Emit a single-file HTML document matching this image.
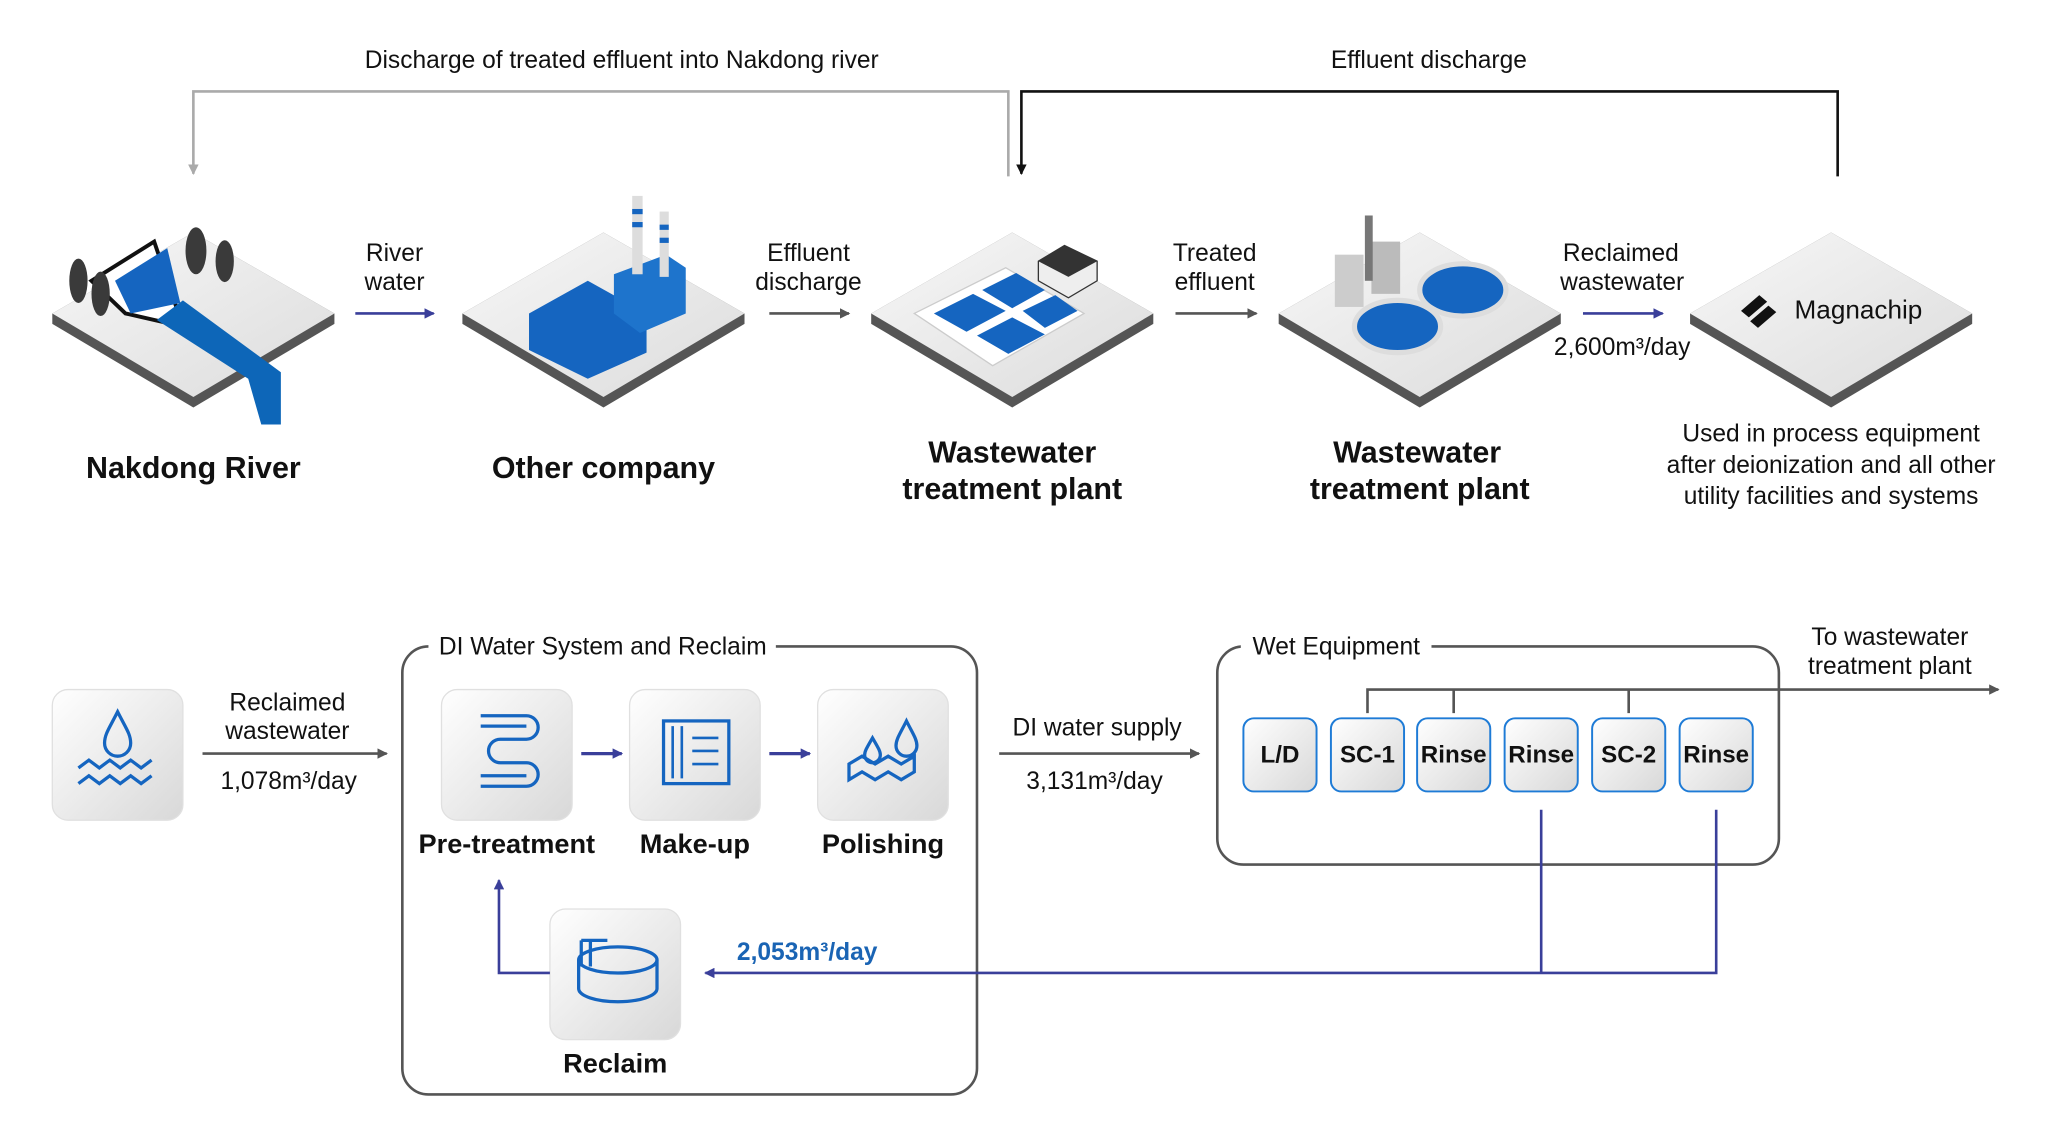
<!DOCTYPE html>
<html><head><meta charset="utf-8"><style>
html,body{margin:0;padding:0;background:#fff}
svg{display:block}
text{font-family:"Liberation Sans",Arial,sans-serif;fill:#111}
</style></head><body>
<svg width="2048" height="1148" viewBox="0 0 1568 879" xmlns="http://www.w3.org/2000/svg">
<defs>
<linearGradient id="tile" x1="0" y1="0" x2="1" y2="1"><stop offset="0" stop-color="#f7f7f7"/><stop offset="1" stop-color="#dcdcdc"/></linearGradient>
<linearGradient id="box" x1="0" y1="0" x2="1" y2="1"><stop offset="0" stop-color="#ffffff"/><stop offset="1" stop-color="#d8d8d8"/></linearGradient>
<marker id="ab" markerWidth="8" markerHeight="8" refX="7" refY="4" orient="auto" markerUnits="userSpaceOnUse"><path d="M0,0 L8,4 L0,8 z" fill="#3a3f9a"/></marker>
<marker id="ag" markerWidth="8" markerHeight="8" refX="7" refY="4" orient="auto" markerUnits="userSpaceOnUse"><path d="M0,0 L8,4 L0,8 z" fill="#555"/></marker>
<marker id="al" markerWidth="8" markerHeight="8" refX="7" refY="4" orient="auto" markerUnits="userSpaceOnUse"><path d="M0,0 L8,4 L0,8 z" fill="#aaa"/></marker>
<marker id="ak" markerWidth="8" markerHeight="8" refX="7" refY="4" orient="auto" markerUnits="userSpaceOnUse"><path d="M0,0 L8,4 L0,8 z" fill="#111"/></marker>
<g id="plat">
<path d="M0,-62 L108,0 L108,8 L0,72 L-108,8 L-108,0 Z" fill="#555"/>
<path d="M0,-62 L108,0 L0,64 L-108,0 Z" fill="url(#tile)"/>
</g>
</defs>

<text x="476" y="52" font-size="18.8" text-anchor="middle">Discharge of treated effluent into Nakdong river</text>
<text x="1094" y="52" font-size="18.8" text-anchor="middle">Effluent discharge</text>
<path d="M772,135 V70 H148 V133" fill="none" stroke="#aaa" stroke-width="2" marker-end="url(#al)"/>
<path d="M1407,135 V70 H782 V133" fill="none" stroke="#111" stroke-width="2" marker-end="url(#ak)"/>

<use href="#plat" x="148" y="240"/>
<use href="#plat" x="462" y="240"/>
<use href="#plat" x="775" y="240"/>
<use href="#plat" x="1087" y="240"/>
<use href="#plat" x="1402" y="240"/>

<path d="M70,215 L118,185 L140,250 L96,240 Z" fill="#fff" stroke="#111" stroke-width="3"/>
<path d="M88,215 L128,190 L138,232 L100,240Z" fill="#1565c0"/>
<path d="M120,245 L140,230 L215,285 L215,325 L200,325 L190,290 Z" fill="#0d66b8"/>
<ellipse cx="150" cy="192" rx="8" ry="18" fill="#3a3a3a"/><ellipse cx="172" cy="200" rx="7" ry="16" fill="#3a3a3a"/>
<ellipse cx="60" cy="215" rx="7" ry="17" fill="#3a3a3a"/><ellipse cx="77" cy="225" rx="7" ry="17" fill="#3a3a3a"/>
<path d="M405,240 L450,215 L495,240 L495,270 L450,290 L405,268Z" fill="#1565c0"/>
<path d="M470,210 L510,195 L525,205 L525,240 L490,255 L470,240Z" fill="#1e74cc"/>
<rect x="484" y="150" width="8" height="60" fill="#ddd"/><rect x="505" y="162" width="7" height="50" fill="#ddd"/>
<rect x="484" y="160" width="8" height="4" fill="#1565c0"/><rect x="484" y="170" width="8" height="4" fill="#1565c0"/><rect x="505" y="172" width="7" height="4" fill="#1565c0"/><rect x="505" y="182" width="7" height="4" fill="#1565c0"/>
<path d="M700,240 L770,205 L830,240 L760,280Z" fill="#fff" stroke="#ccc"/>
<path d="M715,240 L745,225 L770,238 L740,254Z M752,222 L778,209 L800,222 L775,236Z M748,257 L775,243 L800,256 L772,271Z M783,238 L808,226 L825,238 L800,251Z" fill="#1565c0"/>
<path d="M795,200 L815,188 L840,200 L840,215 L818,228 L795,215Z" fill="#eee" stroke="#333"/>
<path d="M795,200 L815,188 L840,200 L818,212Z" fill="#333"/>
<ellipse cx="1070" cy="250" rx="33" ry="20" fill="#1565c0" stroke="#ddd" stroke-width="4"/>
<ellipse cx="1120" cy="222" rx="33" ry="20" fill="#1565c0" stroke="#ddd" stroke-width="4"/>
<rect x="1022" y="195" width="22" height="40" fill="#ccc"/><rect x="1050" y="185" width="22" height="40" fill="#bbb"/><rect x="1045" y="165" width="6" height="50" fill="#777"/>
<path d="M1333,238 l14,-12 l6,5 l-14,12z M1340,246 l14,-12 l6,5 l-14,12z" fill="#111"/>
<text x="1374" y="244" font-size="20">Magnachip</text>

<text x="302" y="200" font-size="18.8" text-anchor="middle">River</text><text x="302" y="222" font-size="18.8" text-anchor="middle">water</text>
<line x1="272" y1="240" x2="332" y2="240" stroke="#3a3f9a" stroke-width="2" marker-end="url(#ab)"/>
<text x="619" y="200" font-size="18.8" text-anchor="middle">Effluent</text><text x="619" y="222" font-size="18.8" text-anchor="middle">discharge</text>
<line x1="589" y1="240" x2="650" y2="240" stroke="#555" stroke-width="2" marker-end="url(#ag)"/>
<text x="930" y="200" font-size="18.8" text-anchor="middle">Treated</text><text x="930" y="222" font-size="18.8" text-anchor="middle">effluent</text>
<line x1="900" y1="240" x2="962" y2="240" stroke="#555" stroke-width="2" marker-end="url(#ag)"/>
<text x="1241" y="200" font-size="18.8" text-anchor="middle">Reclaimed</text><text x="1242" y="222" font-size="18.8" text-anchor="middle">wastewater</text>
<line x1="1212" y1="240" x2="1273" y2="240" stroke="#3a3f9a" stroke-width="2" marker-end="url(#ab)"/>
<text x="1242" y="272" font-size="18.8" text-anchor="middle">2,600m³/day</text>

<text x="148" y="366" font-size="23.3" font-weight="bold" text-anchor="middle">Nakdong River</text>
<text x="462" y="366" font-size="23.3" font-weight="bold" text-anchor="middle">Other company</text>
<text x="775" y="354" font-size="23.3" font-weight="bold" text-anchor="middle">Wastewater</text><text x="775" y="382" font-size="23.3" font-weight="bold" text-anchor="middle">treatment plant</text>
<text x="1085" y="354" font-size="23.3" font-weight="bold" text-anchor="middle">Wastewater</text><text x="1087" y="382" font-size="23.3" font-weight="bold" text-anchor="middle">treatment plant</text>
<text x="1402" y="338" font-size="18.8" text-anchor="middle">Used in process equipment</text>
<text x="1402" y="362" font-size="18.8" text-anchor="middle">after deionization and all other</text>
<text x="1402" y="386" font-size="18.8" text-anchor="middle">utility facilities and systems</text>

<rect x="40" y="528" width="100" height="100" rx="12" fill="url(#box)" stroke="#e0e0e0"/>
<path d="M90,545 C84,557 80,562 80,569 a10,10 0 0 0 20,0 c0,-7 -4,-12 -10,-24z" fill="none" stroke="#1565c0" stroke-width="2.5"/>
<path d="M60,588 l8,-6 8,6 8,-6 8,6 8,-6 8,6 8,-6 M60,600 l8,-6 8,6 8,-6 8,6 8,-6 8,6 8,-6" fill="none" stroke="#1565c0" stroke-width="2.5"/>
<text x="220" y="544" font-size="18.8" text-anchor="middle">Reclaimed</text><text x="220" y="566" font-size="18.8" text-anchor="middle">wastewater</text>
<line x1="155" y1="577" x2="296" y2="577" stroke="#555" stroke-width="2" marker-end="url(#ag)"/>
<text x="221" y="604" font-size="18.8" text-anchor="middle">1,078m³/day</text>

<rect x="308" y="495" width="440" height="343" rx="20" fill="none" stroke="#555" stroke-width="2"/>
<rect x="328" y="484" width="266" height="22" fill="#fff"/>
<text x="336" y="501" font-size="18.8">DI Water System and Reclaim</text>

<g>
<rect x="338" y="528" width="100" height="100" rx="12" fill="url(#box)" stroke="#e0e0e0"/>
<path d="M368,548 h35 a9,9 0 0 1 0,18 h-20 a9,9 0 0 0 0,18 h20 a9,9 0 0 1 0,18 h-35" fill="none" stroke="#1565c0" stroke-width="2.5"/>
<path d="M368,556 h35 M368,594 h35" fill="none" stroke="#1565c0" stroke-width="2.5"/>
<rect x="482" y="528" width="100" height="100" rx="12" fill="url(#box)" stroke="#e0e0e0"/>
<rect x="508" y="552" width="50" height="48" fill="none" stroke="#1565c0" stroke-width="2.5"/>
<path d="M515,556 v40 M522,556 v40 M530,565 h20 M530,575 h20 M530,585 h20" stroke="#1565c0" stroke-width="2"/>
<rect x="626" y="528" width="100" height="100" rx="12" fill="url(#box)" stroke="#e0e0e0"/>
<path d="M650,585 l10,-6 10,6 10,-6 10,6 10,-6 v12 l-10,6 -10,-6 -10,6 -10,-6 -10,6z" fill="none" stroke="#1565c0" stroke-width="2.5"/>
<path d="M694,552 c-5,10 -8,14 -8,19 a8,8 0 0 0 16,0 c0,-5 -3,-9 -8,-19z M668,565 c-4,7 -6,10 -6,13 a6,6 0 0 0 12,0 c0,-3 -2,-6 -6,-13z" fill="none" stroke="#1565c0" stroke-width="2.5"/>
</g>
<line x1="445" y1="577" x2="476" y2="577" stroke="#3a3f9a" stroke-width="2.5" marker-end="url(#ab)"/>
<line x1="589" y1="577" x2="620" y2="577" stroke="#3a3f9a" stroke-width="2.5" marker-end="url(#ab)"/>
<text x="388" y="653" font-size="20.8" font-weight="bold" text-anchor="middle">Pre-treatment</text>
<text x="532" y="653" font-size="20.8" font-weight="bold" text-anchor="middle">Make-up</text>
<text x="676" y="653" font-size="20.8" font-weight="bold" text-anchor="middle">Polishing</text>

<rect x="421" y="696" width="100" height="100" rx="12" fill="url(#box)" stroke="#e0e0e0"/>
<ellipse cx="473" cy="735" rx="30" ry="10" fill="none" stroke="#1565c0" stroke-width="2.5"/>
<path d="M443,735 v22 a30,10 0 0 0 60,0 v-22" fill="none" stroke="#1565c0" stroke-width="2.5"/>
<path d="M445,720 v20 M452,720 v20 M445,720 h20" fill="none" stroke="#1565c0" stroke-width="2.5"/>
<text x="471" y="821" font-size="20.8" font-weight="bold" text-anchor="middle">Reclaim</text>
<path d="M421,745 H382 V674" fill="none" stroke="#3a3f9a" stroke-width="2" marker-end="url(#ab)"/>

<text x="840" y="563" font-size="18.8" text-anchor="middle">DI water supply</text>
<line x1="765" y1="577" x2="918" y2="577" stroke="#555" stroke-width="2" marker-end="url(#ag)"/>
<text x="838" y="604" font-size="18.8" text-anchor="middle">3,131m³/day</text>

<rect x="932" y="495" width="430" height="167" rx="20" fill="none" stroke="#555" stroke-width="2"/>
<rect x="950" y="484" width="146" height="22" fill="#fff"/>
<text x="959" y="501" font-size="18.8">Wet Equipment</text>

<path d="M1047,546 V528 H1530" fill="none" stroke="#555" stroke-width="2" marker-end="url(#ag)"/>
<path d="M1113,528 V546 M1247,528 V546" stroke="#555" stroke-width="2"/>
<text x="1447" y="494" font-size="18.8" text-anchor="middle">To wastewater</text><text x="1447" y="516" font-size="18.8" text-anchor="middle">treatment plant</text>

<g font-size="18.5" font-weight="bold">
<rect x="952" y="550" width="56" height="56" rx="8" fill="url(#box)" stroke="#1e7bd6" stroke-width="1.5"/><text x="980" y="584" text-anchor="middle" font-weight="bold">L/D</text>
<rect x="1019" y="550" width="56" height="56" rx="8" fill="url(#box)" stroke="#1e7bd6" stroke-width="1.5"/><text x="1047" y="584" text-anchor="middle" font-weight="bold">SC-1</text>
<rect x="1085" y="550" width="56" height="56" rx="8" fill="url(#box)" stroke="#1e7bd6" stroke-width="1.5"/><text x="1113" y="584" text-anchor="middle" font-weight="bold">Rinse</text>
<rect x="1152" y="550" width="56" height="56" rx="8" fill="url(#box)" stroke="#1e7bd6" stroke-width="1.5"/><text x="1180" y="584" text-anchor="middle" font-weight="bold">Rinse</text>
<rect x="1219" y="550" width="56" height="56" rx="8" fill="url(#box)" stroke="#1e7bd6" stroke-width="1.5"/><text x="1247" y="584" text-anchor="middle" font-weight="bold">SC-2</text>
<rect x="1286" y="550" width="56" height="56" rx="8" fill="url(#box)" stroke="#1e7bd6" stroke-width="1.5"/><text x="1314" y="584" text-anchor="middle" font-weight="bold">Rinse</text>
</g>

<path d="M1180,620 V745 M1314,620 V745 H540" fill="none" stroke="#3a3f9a" stroke-width="2" marker-end="url(#ab)"/>
<text x="618" y="735" font-size="18.8" font-weight="bold" text-anchor="middle" style="fill:#1a64b4">2,053m³/day</text>
</svg>
</body></html>
